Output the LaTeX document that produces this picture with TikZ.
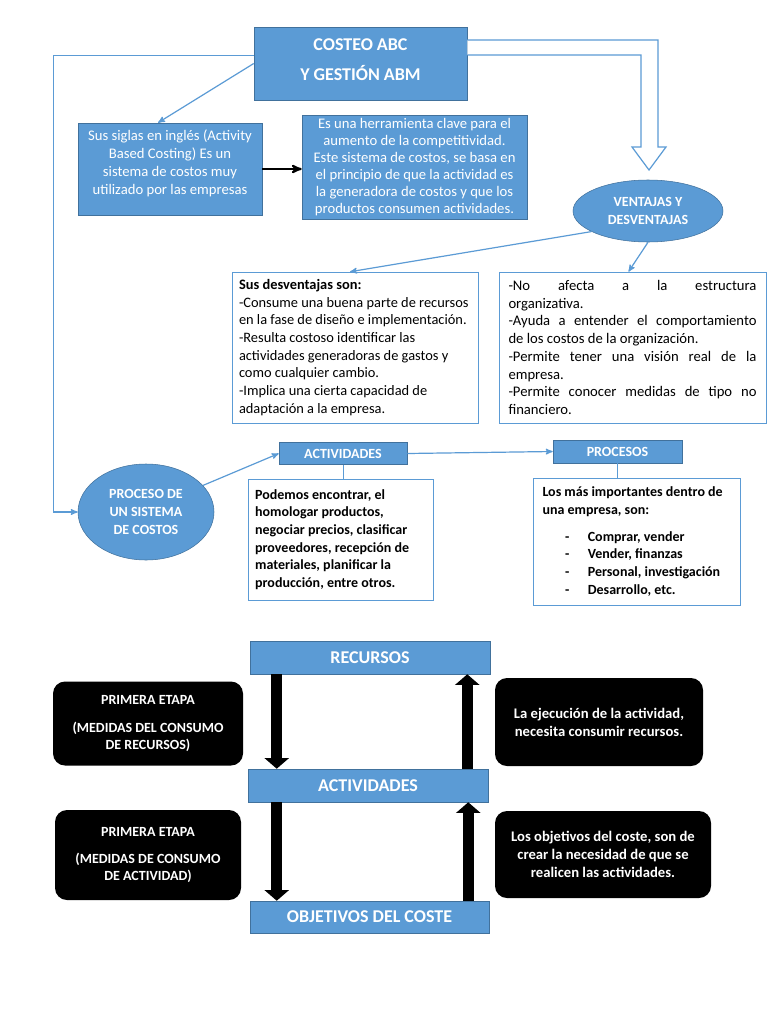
\documentclass[tikz,border=0pt]{standalone}
\usepackage{fontspec}
\setmainfont{Carlito}
\usepackage{tikz}
\usetikzlibrary{
  positioning,
  arrows,
  arrows.meta,
  shapes.geometric
}
\definecolor{azul}{HTML}{5B9BD5}
\definecolor{borde}{HTML}{41719C}
\tikzset{
  >=stealth',
  caja/.style={draw=borde, fill=azul, text=white, align=center, inner sep=0pt},
  elipse/.style={ellipse, draw=borde, fill=azul, text=white, align=center, inner sep=0pt,
    font=\bfseries\fontsize{10.5}{13.5}\selectfont},
  nota/.style={draw=azul, fill=white, align=flush left, inner ysep=0pt,
    font=\fontsize{11}{13.3}\selectfont},
  negra/.style={fill=black, rounded corners=9pt, text=white, align=center, inner sep=0pt,
    font=\bfseries\fontsize{10.5}{12.75}\selectfont},
  linea/.style={->, draw=azul, line width=0.9pt},
  gruesa/.style={-{Triangle[width=18pt,length=8pt]}, line width=8pt}
}

\begin{document}
\begin{tikzpicture}[x=0.75pt, y=-0.75pt]
    \path[fill=white] (0,0) rectangle (768,1024);
    \node[caja, minimum width=159.75pt, minimum height=54.75pt, text depth=6pt,
      font=\bfseries\fontsize{13.5}{16}\selectfont] (tit) at (360.5,63.5) {COSTEO ABC\\[7pt]Y GESTIÓN ABM};
    \node[caja, minimum width=138pt, minimum height=69pt, text depth=11pt, font=\fontsize{11}{13.5}\selectfont]
      (sig) at (170,169) {Sus siglas en inglés (Activity\\Based Costing) Es un\\sistema de costos muy\\utilizado por las empresas};
    \node[caja, minimum width=168.75pt, minimum height=78pt, font=\fontsize{11}{12.75}\selectfont]
      (her) at (414.5,167) {Es una herramienta clave para el\\aumento de la competitividad.\\Este sistema de costos, se basa en\\el principio de que la actividad es\\la generadora de costos y que los\\productos consumen actividades.};
    \node[elipse, minimum width=112.5pt, minimum height=46.5pt, font=\bfseries\fontsize{10.5}{14}\selectfont]
      (vd) at (648,211) {VENTAJAS Y\\DESVENTAJAS};
    \node[nota, text width=174pt, inner xsep=5.25pt, minimum height=113.25pt, font=\fontsize{10.8}{13.3}\selectfont]
      (des) at (355,347.5)
      {\textbf{Sus desventajas son:}\\-Consume una buena parte de recursos\\en la fase de diseño e implementación.\\-Resulta costoso identificar las\\actividades generadoras de gastos y\\como cualquier cambio.\\-Implica una cierta capacidad de\\adaptación a la empresa.};
    \node[nota, text width=186pt, inner xsep=7pt, minimum height=113.25pt] (ven) at (632.5,347.5)
      {\makebox[186pt][s]{-No afecta a la estructura}\\organizativa.\\
       \makebox[186pt][s]{-Ayuda a entender el comportamiento}\\de los costos de la organización.\\
       \makebox[186pt][s]{-Permite tener una visión real de la}\\empresa.\\
       \makebox[186pt][s]{-Permite conocer medidas de tipo no}\\financiero.};
    \node[elipse, minimum width=102pt, minimum height=72pt] (proc) at (146,512) {PROCESO DE\\UN SISTEMA\\DE COSTOS};
    \node[caja, minimum width=96pt, minimum height=16.5pt, font=\bfseries\fontsize{10.5}{12}\selectfont]
      (act) at (343,453.5) {ACTIVIDADES};
    \node[caja, minimum width=96.75pt, minimum height=17.25pt, font=\bfseries\fontsize{10.5}{12}\selectfont]
      (pro) at (617.5,451.5) {PROCESOS};
    \node[nota, font=\bfseries\fontsize{10.5}{13.2}\selectfont, text width=128pt, inner xsep=5.5pt,
      minimum height=90.75pt] (actd) at (340.5,539.5)
      {Podemos encontrar, el\\homologar productos,\\negociar precios, clasificar\\proveedores, recepción de\\materiales, planificar la\\producción, entre otros.};
    \node[nota, font=\bfseries\fontsize{10.5}{13.2}\selectfont, text width=141pt, inner xsep=7pt,
      minimum height=95.25pt] (prod) at (636.5,541.5)
      {Los más importantes dentro de\\una empresa, son:\\[7pt]
       \hspace*{17pt}\makebox[17pt][l]{-}Comprar, vender\\
       \hspace*{17pt}\makebox[17pt][l]{-}Vender, finanzas\\
       \hspace*{17pt}\makebox[17pt][l]{-}Personal, investigación\\
       \hspace*{17pt}\makebox[17pt][l]{-}Desarrollo, etc.};
    \node[caja, minimum width=180pt, minimum height=24.75pt, font=\bfseries\fontsize{13.5}{16}\selectfont]
      (rec) at (370,657.5) {RECURSOS};
    \node[caja, minimum width=180pt, minimum height=24.75pt, font=\bfseries\fontsize{13.5}{16}\selectfont]
      (act2) at (368,785.5) {ACTIVIDADES};
    \node[caja, minimum width=179.25pt, minimum height=24pt, font=\bfseries\fontsize{13.5}{16}\selectfont]
      (obj) at (369.5,917) {OBJETIVOS DEL COSTE};
    \node[negra, minimum width=142.5pt, minimum height=63pt] (e1) at (148,723.5)
      {PRIMERA ETAPA\\[8pt](MEDIDAS DEL CONSUMO\\DE RECURSOS)};
    \node[negra, minimum width=156pt, minimum height=66pt, font=\bfseries\fontsize{11}{13.5}\selectfont]
      (c1) at (599,722) {La ejecución de la actividad,\\necesita consumir recursos.};
    \node[negra, minimum width=139.5pt, minimum height=67.5pt] (e2) at (148,855)
      {PRIMERA ETAPA\\[8pt](MEDIDAS DE CONSUMO\\DE ACTIVIDAD)};
    \node[negra, minimum width=162pt, minimum height=65.25pt, font=\bfseries\fontsize{11}{13.5}\selectfont]
      (c2) at (603,854.5) {Los objetivos del coste, son de\\crear la necesidad de que se\\realicen las actividades.};

    \draw[linea] (tit.west) -- ([xshift=-9pt]sig.north);
    \draw[linea] ([yshift=6pt]tit.west) -- ++(-200,0) |- (proc.west);
    \draw[->, line width=1.5pt] (sig.east) -- (sig.east -| her.west);
    \draw[draw=azul, fill=white, line width=0.9pt] (tit.east |- 0,40) -- (658,40) -- (658,147) -- (666,147)
      -- (649,170) -- (632,147) -- (641,147) -- (641,55) -- (tit.east |- 0,55);
    \draw[linea] (vd.200) -- ([xshift=-3.75pt]des.north);
    \draw[linea] (vd.south) -- ([xshift=-3pt]ven.north);
    \draw[linea] (proc.25) -- (act.west);
    \draw[linea] (act.east) -- (pro.west);
    \draw[azul, line width=0.6pt] (act.south) -- (act.south |- actd.north);
    \draw[azul, line width=0.6pt] (pro.south) -- (pro.south |- prod.north);
    \draw[gruesa] ([xshift=20.25pt]rec.south west) -- ([xshift=20.25pt]rec.south west |- act2.north);
    \draw[gruesa] ([xshift=-15.75pt]act2.north east) -- ([xshift=-15.75pt]act2.north east |- rec.south);
    \draw[gruesa] ([xshift=21.75pt]act2.south west) -- ([xshift=21.75pt]act2.south west |- obj.north);
    \draw[gruesa] ([xshift=-15.75pt]obj.north east) -- ([xshift=-15.75pt]obj.north east |- act2.south);
  \end{tikzpicture}
\end{document}
